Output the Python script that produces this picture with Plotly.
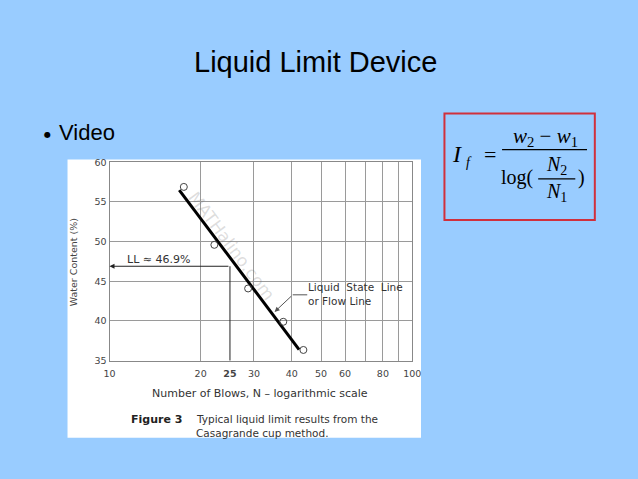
import math
import plotly.graph_objects as go

# Liquid limit test results
blows = [17.6, 22.2, 28.7, 37.5, 43.7]
water_content = [56.9, 49.6, 44.1, 39.9, 36.35]

# Flow line (best fit) end points
flow_blows = [17.0, 42.3]
flow_water = [56.5, 36.4]

# Liquid limit at 25 blows
ll_blows = 25
ll_water = 46.9

# Leader from the "Liquid State Line" label to the flow line
leader_blows = [45.0, 40.3, 35.1]
leader_water = [43.3, 43.3, 41.15]

x_tickvals = [10, 20, 25, 30, 40, 50, 60, 80, 100]
x_ticktext = ["10", "20", "<b>25</b>", "30", "40", "50", "60", "80", "100"]
x_gridvals = [20, 30, 40, 50, 60, 70, 80, 90]
y_tickvals = [35, 40, 45, 50, 55, 60]

W, H = 638, 479
BG = "#99CCFF"
CHART_FONT = "DejaVu Sans"
SERIF = "Liberation Serif"
NARROW = "Liberation Sans Narrow, Liberation Sans, Arial, sans-serif"


def px(x):
    return x / W


def py(y):
    return 1 - y / H


def label(x, y, text, size, family=CHART_FONT, color="#333333", xanchor="center", **kw):
    # text placed in page pixels, anchored explicitly
    return dict(x=px(x), y=py(y), xref="paper", yref="paper", text=text,
                xanchor=xanchor, yanchor="middle", showarrow=False,
                font=dict(family=family, size=size, color=color), **kw)


fig = go.Figure()

# flow line
fig.add_trace(go.Scatter(
    x=flow_blows, y=flow_water, mode="lines",
    line=dict(color="black", width=3), hoverinfo="skip", showlegend=False,
))

# vertical line at 25 blows
fig.add_trace(go.Scatter(
    x=[ll_blows, ll_blows], y=[35, ll_water], mode="lines",
    line=dict(color="#222222", width=1), hoverinfo="skip", showlegend=False,
))

# leader line
fig.add_trace(go.Scatter(
    x=leader_blows[:2], y=leader_water[:2], mode="lines",
    line=dict(color="#555555", width=1), hoverinfo="skip", showlegend=False,
))

# test points
fig.add_trace(go.Scatter(
    x=blows, y=water_content, mode="markers",
    marker=dict(symbol="circle-open", size=7, color="#444444", line=dict(width=1)),
    showlegend=False,
))

annotations = [
    # LL arrow pointing to the y axis
    dict(x=math.log10(10), y=ll_water, ax=math.log10(ll_blows), ay=ll_water,
         xref="x", yref="y", axref="x", ayref="y", text="", showarrow=True,
         arrowhead=2, arrowsize=1, arrowwidth=1, arrowcolor="#222222"),
    # leader arrow onto the flow line
    dict(x=math.log10(leader_blows[2]), y=leader_water[2],
         ax=math.log10(leader_blows[1]), ay=leader_water[1],
         xref="x", yref="y", axref="x", ayref="y", text="", showarrow=True,
         arrowhead=2, arrowsize=1, arrowwidth=1, arrowcolor="#555555"),
    label(156, 259, "LL \u2248 46.9%", 11),
    label(307, 288, "Liquid  State  Line", 10.5, xanchor="left"),
    label(307, 302, "or Flow Line", 10.5, xanchor="left"),
    label(231, 246, "MATHalino.com", 17, color="rgba(120,120,120,0.25)", textangle=53),
    label(70, 262, "Water Content (%)", 9.5, color="#444444", textangle=-90),
    label(260, 397, "Number of Blows, N \u2013 logarithmic scale", 11),
    label(126, 423, "<b>Figure 3</b>", 11, color="#222222", xanchor="left"),
    label(193, 423, "Typical liquid limit results from the", 10.5, xanchor="left"),
    label(193, 437, "Casagrande cup method.", 10.5, xanchor="left"),
    # slide title and bullet
    label(317, 57, "Liquid Limit Device", 29, family=NARROW, color="black"),
    label(43, 132, "\u25cf", 8, family="DejaVu Sans", color="black"),
    label(52, 129, "Video", 22, family=NARROW, color="black", xanchor="left"),
    # formula I_f = (w2 - w1) / log(N2/N1)
    label(462, 151, "<i>I</i>", 24, family=SERIF, color="black"),
    label(474, 160, "<i>f</i>", 14, family=SERIF, color="black"),
    label(496, 152, "=", 22, family=SERIF, color="black"),
    label(552, 134, "<i>w</i><sub>2</sub> \u2212 <i>w</i><sub>1</sub>", 21, family=SERIF, color="black"),
    label(524, 176, "log(", 20, family=SERIF, color="black"),
    label(589, 176, ")", 20, family=SERIF, color="black"),
    label(564, 163, "<i>N</i><sub>2</sub>", 20, family=SERIF, color="black"),
    label(564, 191, "<i>N</i><sub>1</sub>", 20, family=SERIF, color="black"),
]

shapes = [
    # white figure panel
    dict(type="rect", xref="paper", yref="paper", x0=px(63), x1=px(425),
         y0=py(442), y1=py(157), fillcolor="white", line=dict(width=0), layer="below"),
    # formula box
    dict(type="rect", xref="paper", yref="paper", x0=px(449), x1=px(603),
         y0=py(219), y1=py(110), line=dict(color="#D0303C", width=2)),
    # fraction bars
    dict(type="line", xref="paper", yref="paper", x0=px(508), x1=px(595),
         y0=py(147), y1=py(147), line=dict(color="black", width=1.2)),
    dict(type="line", xref="paper", yref="paper", x0=px(545), x1=px(583),
         y0=py(177), y1=py(177), line=dict(color="black", width=1.2)),
]

fig.update_layout(
    width=W, height=H,
    margin=dict(l=0, r=0, t=0, b=0),
    paper_bgcolor=BG,
    plot_bgcolor="white",
    showlegend=False,
    annotations=annotations,
    shapes=shapes,
)

fig.update_xaxes(
    type="log", range=[1, 2], domain=[px(106), px(416)],
    tickmode="array", tickvals=x_tickvals, ticktext=x_ticktext,
    showgrid=False, ticks="", ticklabelstandoff=4,
    minor=dict(tickmode="array", tickvals=x_gridvals, showgrid=True,
               gridcolor="#9a9a9a", gridwidth=1, ticks=""),
    showline=True, linecolor="#888888", linewidth=1, mirror=True,
    tickfont=dict(family=CHART_FONT, size=9.5, color="#444444"),
    zeroline=False,
)
fig.update_yaxes(
    range=[35, 60], domain=[py(363), py(160)],
    tickmode="array", tickvals=y_tickvals,
    showgrid=True, gridcolor="#9a9a9a", gridwidth=1, ticks="",
    showline=True, linecolor="#888888", linewidth=1, mirror=True,
    tickfont=dict(family=CHART_FONT, size=9.5, color="#444444"),
    zeroline=False,
)

# drop the browser's default page margin so the slide fills the window
fig.write_html(
    "out.html",
    config={"displayModeBar": False},
    post_script="document.body.style.margin='0';document.body.style.overflow='hidden';",
)
